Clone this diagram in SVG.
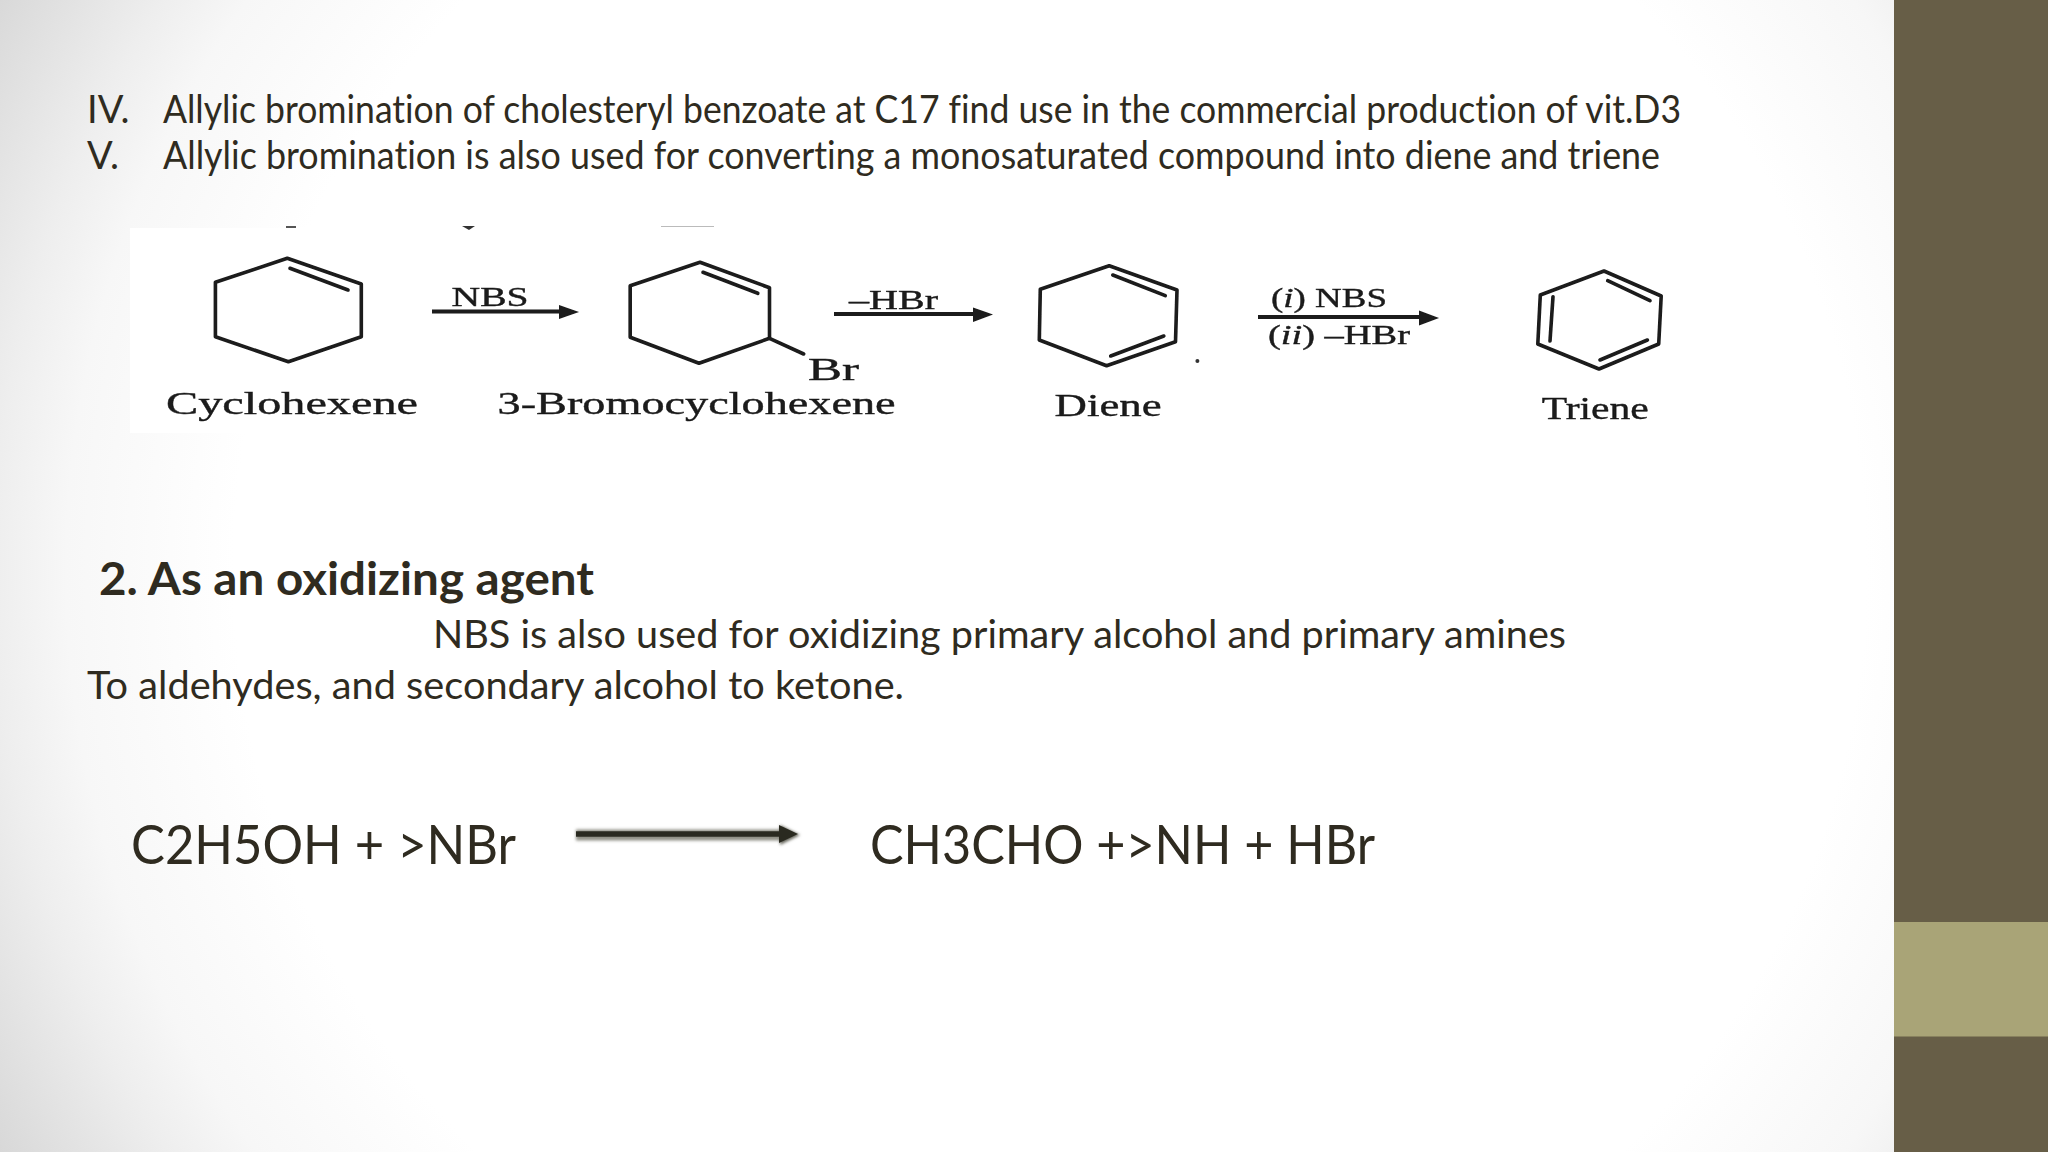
<svg xmlns="http://www.w3.org/2000/svg" width="2048" height="1152" viewBox="0 0 2048 1152">
<defs>
<radialGradient id="bg" gradientUnits="userSpaceOnUse" cx="1050" cy="570" r="1200">
<stop offset="0.68" stop-color="#ffffff"/>
<stop offset="0.82" stop-color="#f7f7f7"/>
<stop offset="0.88" stop-color="#eeeeee"/>
<stop offset="1" stop-color="#d8d8d8"/>
</radialGradient>
<filter id="soft" x="-5%" y="-50%" width="110%" height="200%"><feGaussianBlur stdDeviation="0.6"/></filter>
<filter id="shadow" filterUnits="userSpaceOnUse" x="560" y="810" width="260" height="50"><feGaussianBlur stdDeviation="1.5"/></filter>
</defs>
<style>
text{font-variant-ligatures:none}
.t{font-family:"Lato","Liberation Sans",sans-serif;fill:#2f2b20}
.m{font-size:38px}
.h{font-size:45px;font-weight:700}
.f{font-size:54px}
.c{font-family:"Liberation Serif",serif;fill:#1a1a1a;stroke:#1a1a1a;stroke-width:0.4;font-size:32px}
.r{font-size:28px}
.b{fill:none;stroke:#1a1a1a;stroke-width:3.6;stroke-linejoin:round;stroke-linecap:round}
.a{fill:none;stroke:#1a1a1a;stroke-width:4}
.ah{fill:#1a1a1a}
</style>
<rect width="2048" height="1152" fill="url(#bg)"/>
<rect x="130" y="228" width="1550" height="205" fill="#ffffff"/>
<g id="sidebar">
<rect x="1894" y="0" width="154" height="1152" fill="#675e47"/>
<rect x="1894" y="922" width="154" height="114.500" fill="#a9a477"/>
</g>
<g id="list">
<text class="t m" x="87" y="122.500">IV.</text>
<text class="t m" x="163" y="122.500" textLength="1518" lengthAdjust="spacingAndGlyphs">Allylic bromination of cholesteryl benzoate at C17 find use in the commercial production of vit.D3</text>
<text class="t m" x="87" y="168.500">V.</text>
<text class="t m" x="163" y="168.500" textLength="1497" lengthAdjust="spacingAndGlyphs">Allylic bromination is also used for converting a monosaturated compound into diene and triene</text>
</g>
<g id="scan-marks" filter="url(#soft)">
<rect x="286" y="226" width="10" height="2" fill="#555"/>
<path d="M462 226h13l-6 4z" fill="#333"/>
<rect x="661" y="226" width="53" height="1" fill="#bbb"/>
</g>
<g id="cyclohexene" filter="url(#soft)">
<path class="b" d="M287.300 258.300 361.300 284V336.700L288.400 361.700 215.400 336.700V282.300Z"/>
<path class="b" d="M290 268.300 348 290"/>
<text class="c" x="166" y="414" textLength="252" lengthAdjust="spacingAndGlyphs">Cyclohexene</text>
</g>
<g id="bromocyclohexene" filter="url(#soft)">
<path class="b" d="M700 262.300 769.500 287.700V338.300L699 363.300 630.200 337.300V285.700Z"/>
<path class="b" d="M703 272.300 757.800 293.300"/>
<path class="b" d="M769.500 338.300 803.700 354"/>
<text class="c" x="808" y="379.500" textLength="51" lengthAdjust="spacingAndGlyphs">Br</text>
<text class="c" x="497.600" y="414" textLength="398" lengthAdjust="spacingAndGlyphs">3-Bromocyclohexene</text>
</g>
<g id="diene" filter="url(#soft)">
<path class="b" d="M1109.200 265.700 1177 290 1175.500 341.700 1106.600 365.700 1039.300 340 1040.300 289.300Z"/>
<path class="b" d="M1112.800 275 1165.300 295.700M1110.700 356 1163.800 336"/>
<circle cx="1197.400" cy="361" r="2" fill="#333"/>
<text class="c" x="1054.600" y="416" textLength="107" lengthAdjust="spacingAndGlyphs">Diene</text>
</g>
<g id="triene" filter="url(#soft)">
<path class="b" d="M1604 271 1661.200 296 1658.700 344 1599 369 1537.800 344 1540.300 295Z"/>
<path class="b" d="M1607.700 280.700 1650 300.700M1600 360 1647.400 340M1553 296.700 1550 341"/>
<text class="c" x="1541.800" y="418.500" textLength="107" lengthAdjust="spacingAndGlyphs">Triene</text>
</g>
<g id="connectors" filter="url(#soft)">
<path class="a" d="M432 311.500H562"/><path class="ah" d="M559 305 579 312 559 319Z"/>
<path class="a" d="M834 314H976"/><path class="ah" d="M973 307.500 993 314.500 973 322Z"/>
<path class="a" d="M1258 317H1422"/><path class="ah" d="M1419 310.500 1439 318 1419 325.500Z"/>
</g>
<g id="reagents" filter="url(#soft)">
<text class="c r" x="451.600" y="306" textLength="77" lengthAdjust="spacingAndGlyphs">NBS</text>
<text class="c r" x="849" y="308.500" textLength="89" lengthAdjust="spacingAndGlyphs">–HBr</text>
<text class="c r" x="1271" y="306.700" textLength="116" lengthAdjust="spacingAndGlyphs">(<tspan font-style="italic">i</tspan>) NBS</text>
<text class="c r" x="1268" y="344.300" textLength="142" lengthAdjust="spacingAndGlyphs">(<tspan font-style="italic">ii</tspan>) –HBr</text>
</g>
<g id="section">
<text class="t h" x="99" y="595" textLength="495" lengthAdjust="spacingAndGlyphs">2. As an oxidizing agent</text>
<text class="t m" x="433" y="648" textLength="1133" lengthAdjust="spacingAndGlyphs">NBS is also used for oxidizing primary alcohol and primary amines</text>
<text class="t m" x="87" y="699" textLength="817" lengthAdjust="spacingAndGlyphs">To aldehydes, and secondary alcohol to ketone.</text>
</g>
<g id="equation">
<text class="t f" x="131" y="864" textLength="385" lengthAdjust="spacingAndGlyphs">C2H5OH + &gt;NBr</text>
<text class="t f" x="870" y="864" textLength="505" lengthAdjust="spacingAndGlyphs">CH3CHO +&gt;NH + HBr</text>
</g>
<g id="equation-arrow">
<path d="M576 835H782" stroke="#8f8f85" stroke-width="11" fill="none" filter="url(#shadow)"/>
<path d="M780 825 800 835 780 845Z" fill="#66665c" filter="url(#shadow)"/>
<path d="M576 834H782" stroke="#2a2a20" stroke-width="5.500" fill="none"/>
<path d="M779 825 798 834 779 843Z" fill="#2a2a20"/>
</g>
</svg>
